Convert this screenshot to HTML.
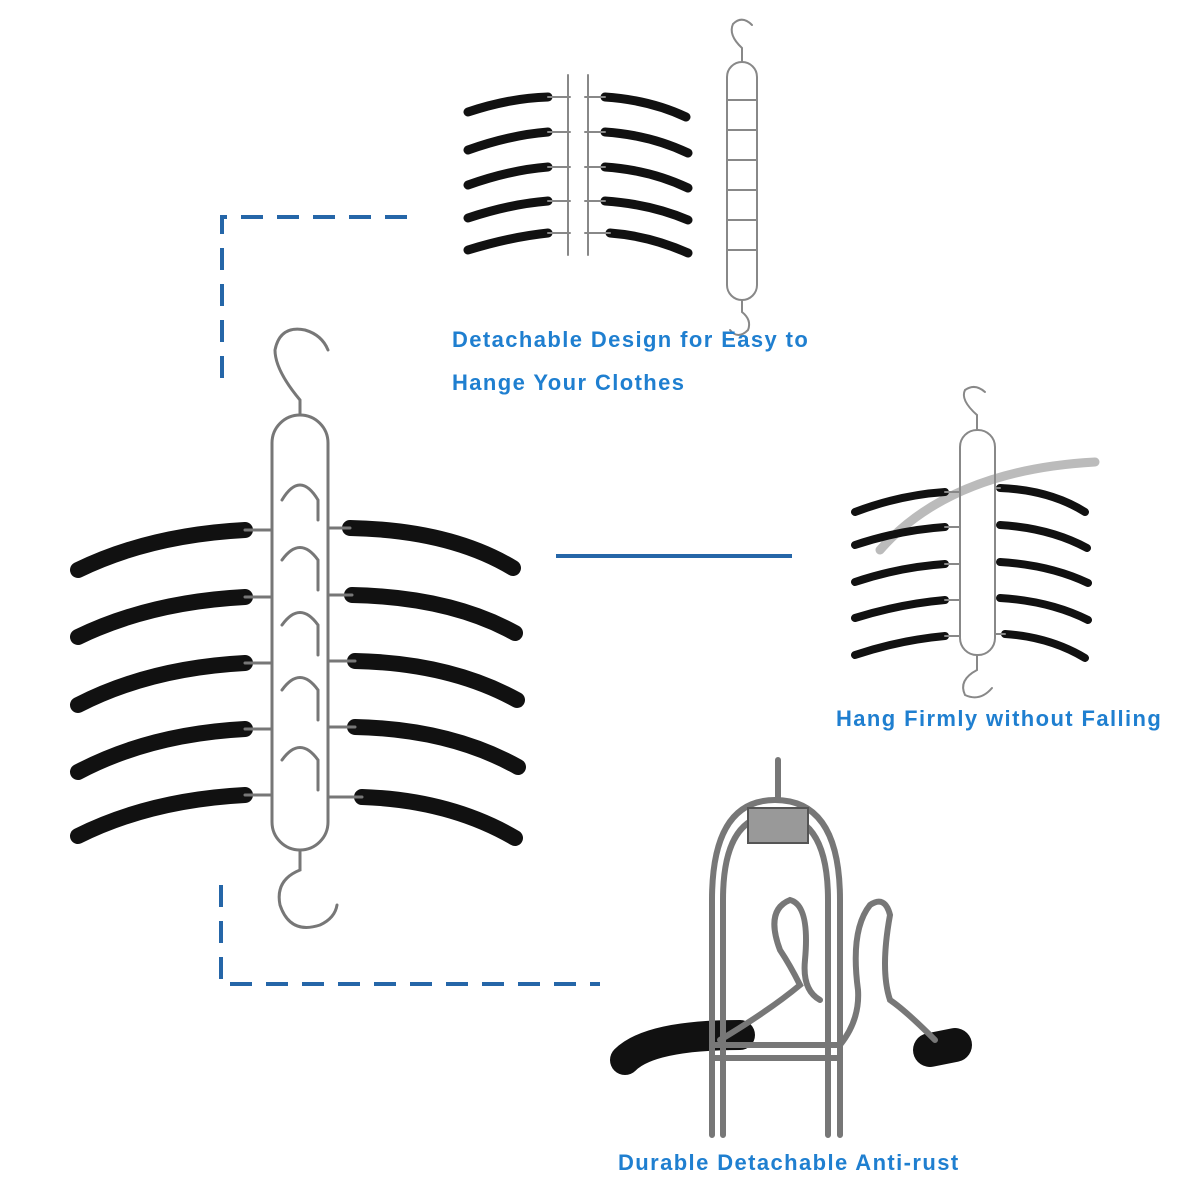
<!DOCTYPE html>
<html><head><meta charset="utf-8"><style>
html,body{margin:0;padding:0;background:#fff;}
svg{display:block}
text{font-family:"Liberation Sans",sans-serif;font-weight:bold;fill:#1f7fd0;font-size:22px;letter-spacing:1.4px;}
</style></head><body>
<svg width="1200" height="1200" viewBox="0 0 1200 1200" xmlns="http://www.w3.org/2000/svg">
<g stroke="#2566a8" stroke-width="4" fill="none">
<path d="M222 378 V217 H415" stroke-dasharray="22 14"/>
<path d="M221 885 V984 H600" stroke-dasharray="22 14"/>
<path d="M556 556 H792"/>
</g>
<g fill="none" stroke-linecap="round">
<g stroke="#111" stroke-width="16">
<path d="M78 570 Q150 535 245 530"/><path d="M350 528 Q450 530 513 568"/>
<path d="M78 637 Q150 602 245 597"/><path d="M352 595 Q450 597 515 633"/>
<path d="M78 705 Q150 668 245 663"/><path d="M355 661 Q450 663 517 700"/>
<path d="M78 772 Q150 734 245 729"/><path d="M355 727 Q450 729 518 767"/>
<path d="M78 836 Q150 800 245 795"/><path d="M362 797 Q450 800 515 838"/>
</g>
<g stroke="#777" stroke-width="3">
<rect x="272" y="415" width="56" height="435" rx="28"/>
<path d="M245 530H272M328 528H350M245 597H272M328 595H352M245 663H272M328 661H355M245 729H272M328 727H355M245 795H272M328 797H362"/>
<path d="M282 500 Q300 470 318 500 V520 M282 560 Q300 535 318 560 V590 M282 625 Q300 600 318 625 V655 M282 690 Q300 665 318 690 V720 M282 760 Q300 735 318 760 V790"/>
<path d="M300 415 V400 Q275 370 275 350 Q280 325 305 330 Q322 335 328 350"/>
<path d="M300 850 V870 Q275 880 280 905 Q290 935 320 925 Q335 918 337 905"/>
</g>
</g>
<g fill="none" stroke-linecap="round">
<g stroke="#111" stroke-width="9">
<path d="M468 112 Q510 98 548 97"/><path d="M605 97 Q650 100 686 117"/>
<path d="M468 150 Q510 135 548 132"/><path d="M605 132 Q650 135 688 153"/>
<path d="M468 185 Q510 170 548 167"/><path d="M605 167 Q650 170 688 188"/>
<path d="M468 218 Q510 204 548 201"/><path d="M605 201 Q650 204 688 220"/>
<path d="M468 250 Q510 237 548 233"/><path d="M610 233 Q650 236 688 253"/>
</g>
<g stroke="#888" stroke-width="2">
<path d="M548 97H570M585 97H605M548 132H570M585 132H605M548 167H570M585 167H605M548 201H570M585 201H605M548 233H570M585 233H610"/>
<path d="M568 75V255M588 75V255"/>
<rect x="727" y="62" width="30" height="238" rx="15"/>
<path d="M727 100H757M727 130H757M727 160H757M727 190H757M727 220H757M727 250H757"/>
<path d="M742 62 V48 Q728 35 733 24 Q742 15 752 25"/>
<path d="M742 300 V312 Q752 320 748 330 Q738 340 730 330"/>
</g>
</g>
<g fill="none" stroke-linecap="round">
<path d="M880 550 Q950 470 1095 462" stroke="#bbb" stroke-width="9"/>
<g stroke="#111" stroke-width="8">
<path d="M855 512 Q900 495 945 492"/><path d="M1000 488 Q1050 490 1085 512"/>
<path d="M855 545 Q900 530 945 527"/><path d="M1000 525 Q1050 528 1087 548"/>
<path d="M855 582 Q900 567 945 564"/><path d="M1000 562 Q1050 565 1088 583"/>
<path d="M855 618 Q900 604 945 600"/><path d="M1000 598 Q1050 601 1088 620"/>
<path d="M855 655 Q900 640 945 636"/><path d="M1005 634 Q1050 637 1085 658"/>
</g>
<g stroke="#888" stroke-width="2">
<rect x="960" y="430" width="35" height="225" rx="17"/>
<path d="M945 492H960M995 488H1000M945 527H960M945 564H960M945 600H960M945 636H960M995 634H1005"/>
<path d="M977 430 V415 Q960 400 965 390 Q975 383 985 392"/>
<path d="M977 655 V670 Q958 680 965 695 Q980 702 992 688"/>
</g>
</g>
<g fill="none" stroke-linecap="round">
<path d="M625 1060 Q650 1035 740 1035" stroke="#111" stroke-width="30"/>
<path d="M930 1050 L955 1045" stroke="#111" stroke-width="34"/>
<g stroke="#777" stroke-width="6">
<path d="M712 1135 V900 Q712 800 775 800 Q840 800 840 900 V1135"/>
<path d="M723 1135 V900 Q723 815 775 815 Q828 815 828 900 V1135"/>
<path d="M712 1045 H840 M712 1058 H840"/>
<path d="M778 800 V760"/>
<path d="M720 1040 Q770 1010 800 985 Q790 965 780 950 Q765 910 790 900 Q810 905 805 960 Q802 990 820 1000"/>
<path d="M840 1045 Q860 1020 858 990 Q850 930 870 905 Q885 895 890 915 Q880 970 890 1000 Q905 1010 935 1040"/>
</g>
<rect x="748" y="808" width="60" height="35" fill="#999" stroke="#555" stroke-width="2"/>
</g>
<text x="452" y="347">Detachable Design for Easy to</text>
<text x="452" y="390">Hange Your Clothes</text>
<text x="836" y="726">Hang Firmly without Falling</text>
<text x="618" y="1170">Durable Detachable Anti-rust</text>
</svg>
</body></html>
